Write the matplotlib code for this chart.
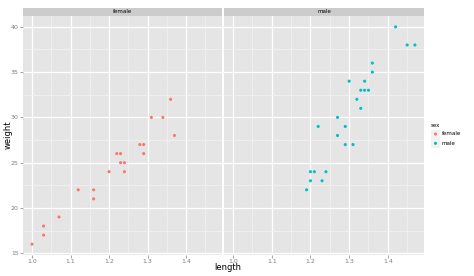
import numpy as np
import matplotlib
matplotlib.use("Agg")
import matplotlib.pyplot as plt
from matplotlib.ticker import MultipleLocator

# data
female_length = [1.00, 1.03, 1.03, 1.07, 1.12, 1.16, 1.16, 1.20, 1.22, 1.23,
                 1.23, 1.24, 1.24, 1.28, 1.29, 1.29, 1.37, 1.31, 1.34, 1.36]
female_weight = [16, 18, 17, 19, 22, 22, 21, 24, 26, 26,
                 25, 25, 24, 27, 27, 26, 28, 30, 30, 32]
male_length = [1.42, 1.45, 1.47, 1.36, 1.36, 1.30, 1.34, 1.33, 1.34, 1.35,
               1.32, 1.33, 1.27, 1.22, 1.29, 1.27, 1.29, 1.31, 1.20, 1.21,
               1.24, 1.20, 1.23, 1.19]
male_weight = [40, 38, 38, 36, 35, 34, 34, 33, 33, 33,
               32, 31, 30, 29, 29, 28, 27, 27, 24, 24,
               24, 23, 23, 22]

panels = ["female", "male"]
colors = {"female": "#F8766D", "male": "#00BFC4"}
data = {"female": (female_length, female_weight),
        "male": (male_length, male_weight)}

W, H = 474, 276
fig = plt.figure(figsize=(W / 100, H / 100), dpi=100)
fig.patch.set_facecolor("white")

xlim = (0.9765, 1.4935)
ylim = (14.8, 41.2)
top, bottom = 16, 255
lefts = [(23, 222), (224, 424)]

for i, name in enumerate(panels):
    x0, x1 = lefts[i]
    ax = fig.add_axes([x0 / W, (H - bottom) / H, (x1 - x0) / W, (bottom - top) / H])
    ax.set_facecolor("#E5E5E5")
    ax.set_xlim(xlim)
    ax.set_ylim(ylim)
    ax.xaxis.set_major_locator(MultipleLocator(0.1))
    ax.xaxis.set_minor_locator(MultipleLocator(0.05))
    ax.yaxis.set_major_locator(MultipleLocator(5))
    ax.yaxis.set_minor_locator(MultipleLocator(2.5))
    ax.grid(which="major", color="white", linewidth=0.9)
    ax.grid(which="minor", color="#F2F2F2", linewidth=0.5)
    ax.set_axisbelow(True)
    for s in ax.spines.values():
        s.set_visible(False)
    ax.tick_params(which="major", length=2, width=0.5, color="#7F7F7F",
                   labelsize=4.5, labelcolor="#7F7F7F", pad=1)
    ax.tick_params(which="minor", length=0)
    ax.set_xticklabels([f"{v:.1f}" for v in ax.get_xticks()])
    if i == 1:
        ax.tick_params(axis="y", left=False, labelleft=False)
    xs, ys = data[name]
    ax.scatter(xs, ys, s=5, color=colors[name], edgecolors="none", zorder=3)

    # facet strip
    sax = fig.add_axes([x0 / W, (H - top) / H, (x1 - x0) / W, 8.5 / H])
    sax.set_facecolor("#CCCCCC")
    sax.set_xticks([])
    sax.set_yticks([])
    for s in sax.spines.values():
        s.set_visible(False)
    sax.text(0.5, 0.5, name, ha="center", va="center", fontsize=4)

fig.text(228 / W, 1 - 268 / H, "length", ha="center", va="center", fontsize=6)
fig.text(8 / W, 1 - 135 / H, "weight", ha="center", va="center",
         rotation=90, fontsize=6)

# legend
fig.text(431 / W, 1 - 125.5 / H, "sex", ha="left", va="center", fontsize=4)
for j, name in enumerate(panels):
    yy = 134 + j * 9.3
    kax = fig.add_axes([431 / W, 1 - (yy + 4.5) / H, 9 / W, 9 / H])
    kax.set_facecolor("#F2F2F2")
    kax.set_xticks([])
    kax.set_yticks([])
    for s in kax.spines.values():
        s.set_visible(False)
    kax.scatter([0.5], [0.5], s=5, color=colors[name], edgecolors="none")
    kax.set_xlim(0, 1)
    kax.set_ylim(0, 1)
    fig.text(442 / W, 1 - yy / H, name, ha="left", va="center", fontsize=4)

fig.savefig("out.png", dpi=100)
